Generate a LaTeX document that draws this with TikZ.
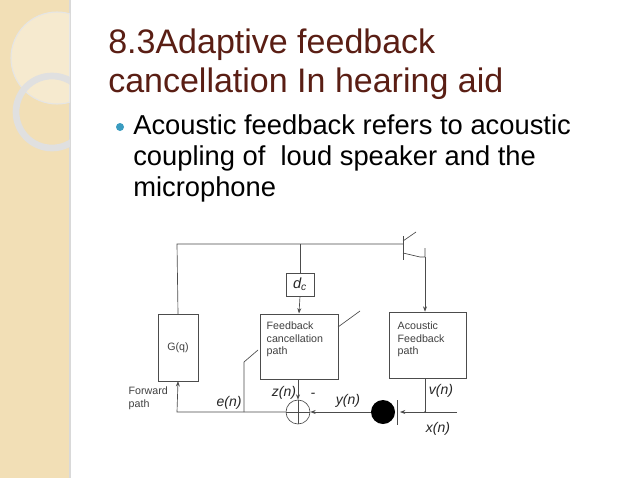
\documentclass[tikz,border=0pt]{standalone}
\usepackage{fontspec}
\setmainfont{Liberation Sans}
\usetikzlibrary{arrows.meta}
\definecolor{beige}{HTML}{F2DFB6}
\definecolor{titlec}{HTML}{5A1E14}
\definecolor{bul}{HTML}{3A9CC0}
\begin{document}
\begin{tikzpicture}[x=0.75pt,y=-0.75pt,
  blk/.style={draw=black!70,line width=0.5pt},
  ln/.style={draw=black!70,line width=0.5pt},
  arr/.style={ln,-{Stealth[length=4pt,width=3pt]}},
  lab/.style={font=\fontsize{10.5}{11}\selectfont\itshape,text=black!85},
  small/.style={font=\fontsize{8}{9.5}\selectfont,text=black!75,align=left},
  body/.style={anchor=base west,font=\fontsize{20.5}{24}\selectfont,inner sep=0},
  ttl/.style={anchor=base west,text=titlec,font=\fontsize{25.5}{28}\selectfont,inner sep=0}]
\useasboundingbox (0,0) rectangle (638,478);
\fill[white] (0,0) rectangle (638,478);
\fill[beige] (0,0) rectangle (70,478);
\draw[black!15,line width=1pt] (70,0) -- (70,478);
\begin{scope}
\clip (0,0) rectangle (70,478);
\fill[white,opacity=0.35] (57,58) circle (46);
\draw[white!90!black,line width=0.8pt] (57,58) circle (46);
\draw[black!12,line width=5pt] (52,112) circle (36);
\end{scope}
% title
\node[ttl] (t1) at (108,54) {8.3Adaptive feedback};
\node[ttl] (t2) at (108,93) {cancellation In hearing aid};
\fill[bul] (120,127) circle (4);
\node[body] (b1) at (133,134) {Acoustic feedback refers to acoustic};
\node[body] (b2) at (133,165) {coupling of \ loud speaker and the};
\node[body] (b3) at (133,196) {microphone};
% blocks
\node[blk,minimum width=30pt,minimum height=50pt] (G) at (178,347.5) {};
\node[small] at (G) {G(q)};
\node[blk,minimum width=21pt,minimum height=17pt] (dc) at (300,284.5) {};
\node[lab,font=\fontsize{11}{11}\selectfont\itshape] at (dc) {d\textsubscript{c}};
\node[blk,minimum width=58.5pt,minimum height=49pt] (F) at (299,346.5) {};
\node[small,anchor=north west] at (262,317) {Feedback\\cancellation\\path};
\node[blk,minimum width=58pt,minimum height=49.5pt] (A) at (427.5,345) {};
\node[small,anchor=north west] at (393,317) {Acoustic\\Feedback\\path};
\node[circle,draw=black!70,line width=0.5pt,minimum size=18pt,inner sep=0] (S) at (298,412) {};
\draw[ln] (S.north) -- (S.south) (S.west) -- (S.east);
\node[circle,fill=black,minimum size=18pt,inner sep=0] (M) at (383,412) {};
\coordinate (top) at (177,244);
\coordinate (spk) at (403,244);
\coordinate (xin) at (457,412);
\coordinate (vj) at (425,412);
\coordinate (ej) at (244,412);
% connections
\draw[ln] (G.north) -- (top) -- (spk);
\draw[ln] (300,244) -- (dc.north);
\draw[arr] (dc.south) -- (F.north);
\draw[ln] (403,236) -- (403,260);
\draw[ln] (403,241) -- (416,232);
\draw[ln] (403,253) -- (420,257) -- (425,257) -- (425,248);
\draw[arr] (425,257) -- (A.north -| 425,0);
\draw[ln] (A.south -| 425,0) -- (vj);
\draw[arr] (xin) -- (400,412);
\draw[ln] (397,400) -- (397,425);
\draw[arr] (M.west) -- (S.east);
\draw[arr] (F.south -| S.north) -- (S.north);
\draw[arr] (S.west) -- (177,412) -- (G.south);
\draw[ln] (ej) -- (244,362) -- (258,350);
\draw[ln] (338,327) -- (360,311);
\fill[black!70] (425,412) circle (1);
% labels
\node[small,anchor=west] at (124,398) {Forward\\path};
\node[lab] at (229,403) {e(n)};
\node[lab] at (284,393) {z(n)};
\node[lab] at (313,395) {-};
\node[lab] at (348,401) {y(n)};
\node[lab] at (441,391) {v(n)};
\node[lab] at (438,429) {x(n)};
\end{tikzpicture}
\end{document}
